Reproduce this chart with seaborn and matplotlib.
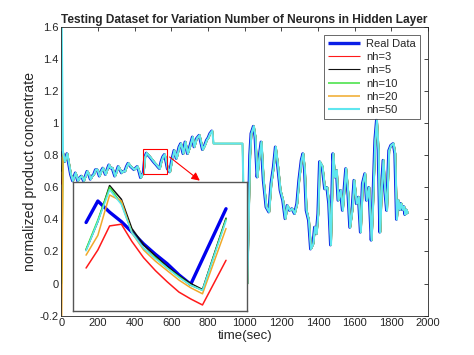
import numpy as np
import pandas as pd
import matplotlib
matplotlib.use("Agg")
import matplotlib.pyplot as plt
import seaborn as sns
from matplotlib.patches import Rectangle

# ---- data ----
# real data, first block (before the gap)
time_a = [0, 5, 16, 29, 38, 49, 60, 75, 88, 98, 108, 120, 139, 148, 157, 166, 175,
          185, 194, 206, 215, 225, 239, 248, 258, 267, 276, 290, 300, 309, 318, 327,
          336, 345, 354, 363, 376, 386, 395, 404, 413, 422, 431, 440, 446, 454, 463,
          472, 481, 489, 498, 507, 516, 525, 534, 543, 552, 561, 570, 577, 590, 601,
          614, 626, 641, 650, 663, 674, 687, 699, 714, 723, 736, 751, 760, 769, 780,
          791, 800, 809, 820]
real_a = [0.80, 0.82, 0.76, 0.81, 0.75, 0.68, 0.64, 0.69, 0.64, 0.66, 0.67, 0.64,
          0.70, 0.68, 0.65, 0.67, 0.68, 0.71, 0.71, 0.67, 0.70, 0.72, 0.68, 0.71,
          0.74, 0.72, 0.72, 0.67, 0.70, 0.73, 0.71, 0.69, 0.70, 0.70, 0.73, 0.75,
          0.73, 0.72, 0.71, 0.72, 0.73, 0.70, 0.66, 0.68, 0.69, 0.789, 0.814, 0.801,
          0.790, 0.778, 0.764, 0.752, 0.741, 0.728, 0.717, 0.76, 0.79, 0.805, 0.76,
          0.717, 0.696, 0.769, 0.83, 0.78, 0.852, 0.873, 0.81, 0.883, 0.81, 0.852,
          0.914, 0.852, 0.904, 0.925, 0.88, 0.835, 0.86, 0.894, 0.91, 0.935, 0.952]

# real data, second block (after the gap)
time_b = [1012, 1020, 1027, 1034, 1047, 1056, 1067, 1076, 1089, 1101, 1116, 1131,
          1143, 1156, 1167, 1180, 1193, 1207, 1220, 1231, 1244, 1257, 1271, 1284,
          1295, 1308, 1317, 1326, 1335, 1348, 1359, 1372, 1381, 1390, 1399, 1408,
          1422, 1436, 1448, 1458, 1468, 1481, 1490, 1500, 1509, 1522, 1533, 1540,
          1551, 1563, 1573, 1585, 1596, 1609, 1620, 1631, 1642, 1655, 1664, 1677,
          1690, 1697, 1710, 1719, 1728, 1737, 1746, 1755, 1764, 1774, 1786, 1797,
          1810, 1819, 1828, 1836, 1845, 1852, 1861, 1868, 1874, 1880, 1887]
real_b = [0.0, 0.45, 0.80, 0.936, 0.981, 0.914, 0.664, 0.769, 0.883, 0.644, 0.477,
          0.446, 0.623, 0.727, 0.852, 0.727, 0.581, 0.519, 0.404, 0.487, 0.456,
          0.467, 0.436, 0.498, 0.644, 0.769, 0.81, 0.706, 0.456, 0.394, 0.215,
          0.248, 0.352, 0.31, 0.436, 0.76, 0.73, 0.59, 0.60, 0.50, 0.24, 0.81,
          0.664, 0.706, 0.519, 0.581, 0.456, 0.56, 0.717, 0.56, 0.35, 0.456, 0.644,
          0.498, 0.539, 0.32, 0.623, 0.685, 0.519, 0.60, 0.27, 0.456, 0.894, 1.02,
          0.83, 0.32, 0.60, 0.769, 0.581, 0.456, 0.83, 0.862, 0.873, 0.81, 0.40,
          0.52, 0.46, 0.50, 0.46, 0.48, 0.43, 0.46, 0.44]

# predictions hold a level while the real data is missing
gap_time = [830, 988, 1004]
gap_level = [0.873, 0.873, 0.02]

models = ["nh=3", "nh=5", "nh=10", "nh=20", "nh=50"]
model_colors = ["#ff1a1a", "#111111", "#3ee03e", "#f0a92a", "#5fe6ef"]
model_widths = [0.8, 0.8, 1.1, 1.1, 1.5]
# first output of each network (start-up transient)
start_values = [0.62, 0.70, 0.0, -0.35, 1.75]
# small delay of the network outputs behind the real signal (sec)
lag_sec = [5, 5, 4, 4, 3]

# zoomed window (inset)
win_time = [454, 463, 472, 481, 489, 498, 507, 516, 525, 534, 543, 561]
win_real_time = [454, 463, 472, 481, 489, 498, 507, 516, 525, 534, 561]
win_real = [0.789, 0.814, 0.801, 0.790, 0.778, 0.764, 0.752, 0.741, 0.728, 0.717, 0.805]
win_pred = {
    "nh=3": [0.736, 0.757, 0.785, 0.787, 0.767, 0.748, 0.733, 0.720, 0.708, 0.700, 0.693, 0.745],
    "nh=5": [0.757, 0.790, 0.832, 0.816, 0.782, 0.763, 0.750, 0.738, 0.727, 0.718, 0.711, 0.794],
    "nh=10": [0.758, 0.792, 0.830, 0.811, 0.778, 0.759, 0.748, 0.736, 0.726, 0.716, 0.710, 0.793],
    "nh=20": [0.751, 0.774, 0.821, 0.814, 0.777, 0.757, 0.744, 0.733, 0.722, 0.713, 0.706, 0.782],
    "nh=50": [0.756, 0.790, 0.827, 0.810, 0.777, 0.759, 0.747, 0.736, 0.725, 0.716, 0.710, 0.791],
}
win_x = (444, 577)
win_y = (0.686, 0.836)

xticks = [0, 200, 400, 600, 800, 1000, 1200, 1400, 1600, 1800, 2000]
yticks = [-0.2, 0, 0.2, 0.4, 0.6, 0.8, 1.0, 1.2, 1.4, 1.6]
ytick_labels = ["-0.2", "0", "0.2", "0.4", "0.6", "0.8", "1", "1.2", "1.4", "1.6"]

# ---- plot ----
sns.set_theme(style="white")
plt.rcParams['font.family'] = ['Liberation Sans', 'DejaVu Sans']

fig = plt.figure(figsize=(4.74, 3.55), dpi=100)
ax = fig.add_axes([0.1297, 0.111, 0.773, 0.813])

real_blue = "#0a1ee6"
sns.lineplot(x=time_a, y=real_a, ax=ax, color=real_blue, lw=2.0, sort=False,
             estimator=None, label="Real Data")
sns.lineplot(x=time_b, y=real_b, ax=ax, color=real_blue, lw=2.0, sort=False,
             estimator=None)

for name, col, w, s0, lag in zip(models, model_colors, model_widths, start_values, lag_sec):
    px = [0] + [t + lag for t in time_a[1:]] + gap_time + [t + lag for t in time_b]
    py = [s0] + real_a[1:] + gap_level + real_b
    sns.lineplot(x=px, y=py, ax=ax, color=col, lw=w, sort=False,
                 estimator=None, label=name)

ax.set_xlim(0, 2000)
ax.set_ylim(-0.2, 1.6)
ax.set_xticks(xticks)
ax.set_yticks(yticks)
ax.set_yticklabels(ytick_labels)
ax.tick_params(direction="in", top=True, right=True, length=3, width=0.6,
               labelsize=8, colors="#262626", pad=2)
for sp in ax.spines.values():
    sp.set_color("#262626")
    sp.set_linewidth(0.6)

ax.set_title("Testing Dataset for Variation Number of Neurons in Hidden Layer",
             fontsize=8.6, fontweight="bold", pad=3)
ax.set_xlabel("time(sec)", fontsize=9.5, labelpad=1)
ax.set_ylabel("normalized product concentrate", fontsize=10.2, labelpad=2)

leg = ax.legend(loc="upper right", fontsize=8, frameon=True, fancybox=False,
                handlelength=2.9, borderaxespad=0.7, labelspacing=0.3,
                handletextpad=0.6, borderpad=0.35)
leg.get_frame().set_edgecolor("#262626")
leg.get_frame().set_linewidth(0.6)
for line in leg.get_lines():
    line.set_solid_capstyle("butt")
    if line.get_label() == "Real Data":
        line.set_linewidth(2.4)

ax.add_patch(Rectangle((win_x[0], win_y[0]), win_x[1] - win_x[0], win_y[1] - win_y[0],
                       fill=False, ec="red", lw=0.8, zorder=5))
ax.annotate("", xy=(767, 0.631), xytext=(578, 0.80),
            arrowprops=dict(arrowstyle="-|>", color="red", lw=0.8,
                            mutation_scale=12))

# inset
axin = fig.add_axes([0.154, 0.124, 0.367, 0.363])
sns.lineplot(x=win_real_time, y=win_real, ax=axin, color="#0000ee", lw=2.4,
             sort=False, estimator=None)
for name, col in zip(models, model_colors):
    sns.lineplot(x=win_time, y=win_pred[name], ax=axin, color=col, lw=1.1,
                 sort=False, estimator=None)
axin.set_xlim(*win_x)
axin.set_ylim(*win_y)
axin.set_xticks([])
axin.set_yticks([])
axin.set_xlabel("")
axin.set_ylabel("")
for sp in axin.spines.values():
    sp.set_color("#555555")
    sp.set_linewidth(1.0)

fig.savefig("out.png", dpi=100)
